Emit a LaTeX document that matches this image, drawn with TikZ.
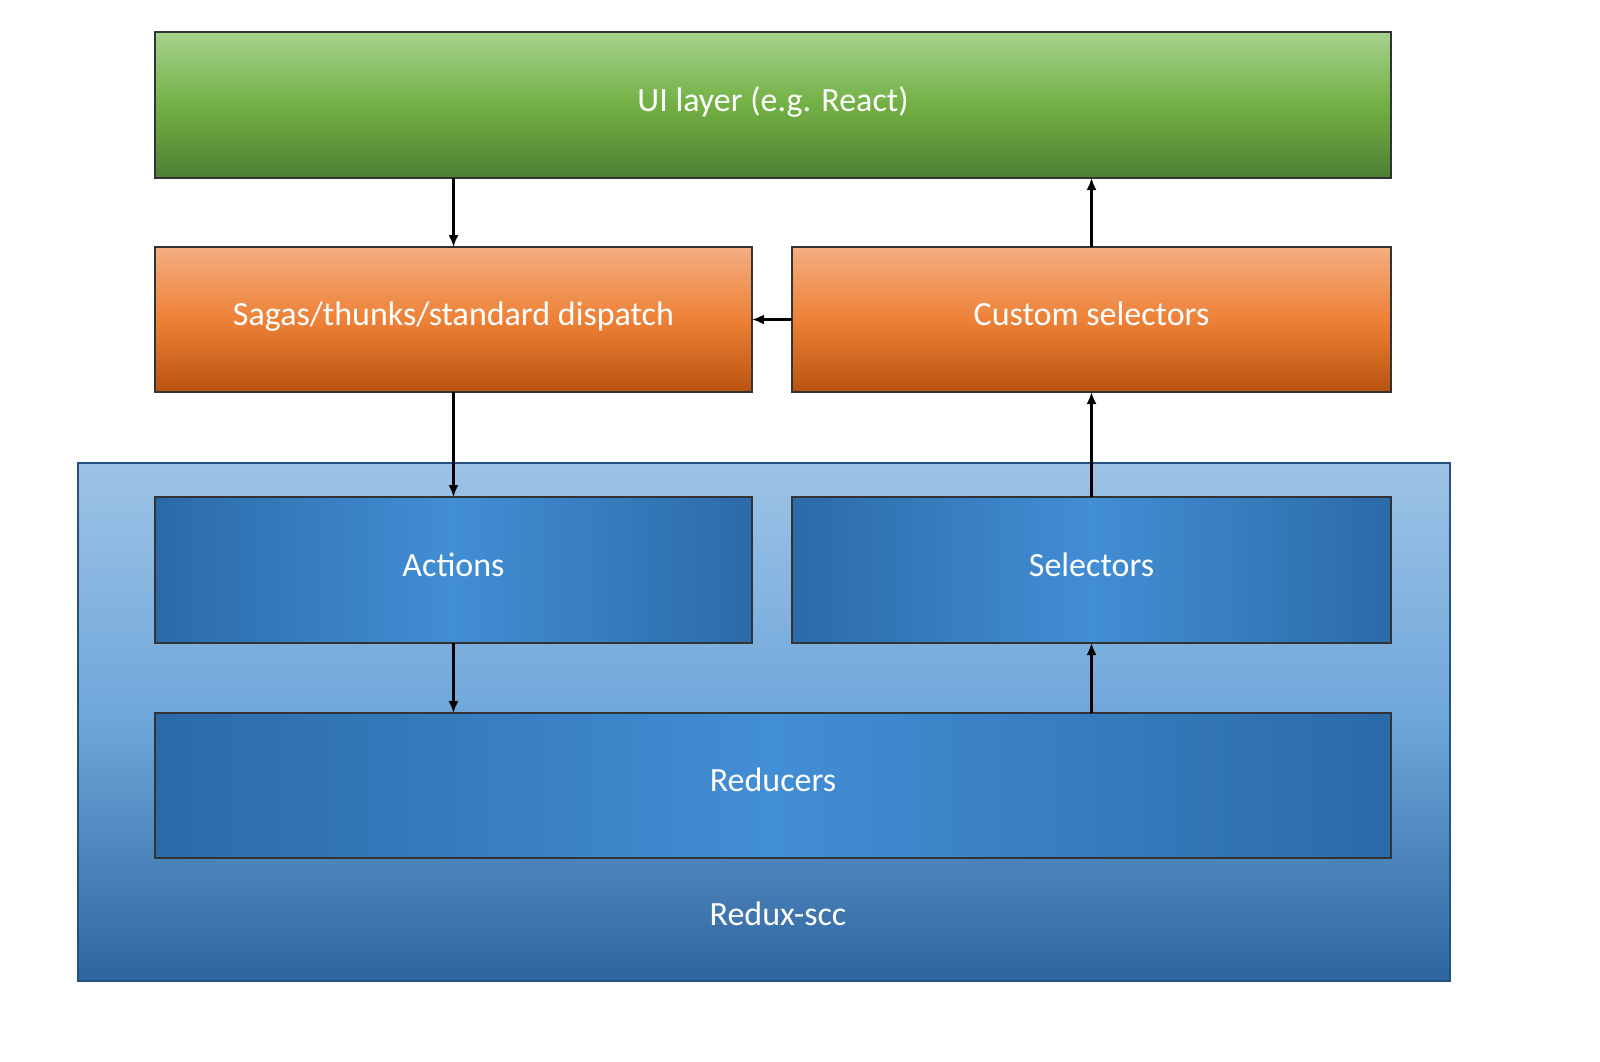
\documentclass[tikz,border=0pt]{standalone}
\usepackage{fontspec}
\setmainfont{Carlito}
\usetikzlibrary{arrows.meta}
\definecolor{gT}{HTML}{A5D28E}\definecolor{gM}{HTML}{72B043}\definecolor{gB}{HTML}{4E7F34}
\definecolor{oT}{HTML}{F3AE80}\definecolor{oM}{HTML}{EE8137}\definecolor{oB}{HTML}{B8530F}
\definecolor{bT}{HTML}{9DC3E6}\definecolor{bM}{HTML}{6EA6DA}\definecolor{bB}{HTML}{2E65A0}
\definecolor{dE}{HTML}{2B6AA8}\definecolor{dC}{HTML}{428ED4}
\begin{document}
\begin{tikzpicture}[x=0.5pt,y=-0.5pt,
  txt/.style={inner sep=0pt,outer sep=0pt,text=white,font=\fontsize{17}{20}\selectfont,text height=1.35ex,text depth=0pt},
  box/.style={txt,draw=black!80,line width=0.6pt},
  green/.style={box,top color=gT,bottom color=gB,middle color=gM},
  orange/.style={box,top color=oT,bottom color=oB,middle color=oM},
  dblue/.style={box,left color=dE,right color=dE,middle color=dC},
  arr/.style={-{Latex[length=6pt,width=5pt]},line width=1.1pt}]
\useasboundingbox (0,0) rectangle (1600,1061);
\node[box,draw=bB!80!black,top color=bT,bottom color=bB,middle color=bM,minimum width=686pt,minimum height=259pt] (redux) at (764,722) {};
\node[txt] (lbl) at (778,919) {Redux-scc};
\node[green,minimum width=618pt,minimum height=73pt] (ui) at (773,105) {UI layer (e.g. React)};
\node[orange,minimum width=298.5pt,minimum height=72.5pt] (sagas) at (453.5,319.5) {Sagas/thunks/standard dispatch};
\node[orange,minimum width=299.5pt,minimum height=72.5pt] (custom) at (1091.5,319.5) {Custom selectors};
\node[dblue,minimum width=298.5pt,minimum height=73pt] (actions) at (453.5,570) {Actions};
\node[dblue,minimum width=299.5pt,minimum height=73pt] (selectors) at (1091.5,570) {Selectors};
\node[dblue,minimum width=618pt,minimum height=72.5pt] (reducers) at (773,785.5) {Reducers};
\draw[arr] (sagas.north |- ui.south) -- (sagas.north);
\draw[arr] (custom.north) -- (custom.north |- ui.south);
\draw[arr] (custom.west) -- (sagas.east);
\draw[arr] (sagas.south) -- (actions.north);
\draw[arr] (selectors.north) -- (custom.south);
\draw[arr] (actions.south) -- (actions.south |- reducers.north);
\draw[arr] (selectors.south |- reducers.north) -- (selectors.south);
\end{tikzpicture}
\end{document}
